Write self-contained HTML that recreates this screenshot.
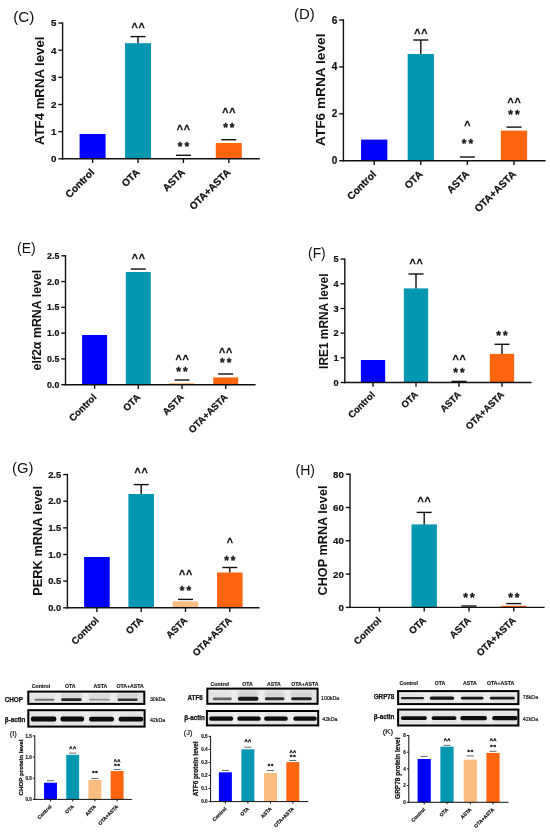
<!DOCTYPE html>
<html><head><meta charset="utf-8"><title>Figure</title>
<style>
html,body{margin:0;padding:0;background:#fff;}
body{width:550px;height:832px;overflow:hidden;}
svg{display:block;font-family:"Liberation Sans", Arial, sans-serif;}
</style></head>
<body>
<svg width="550" height="832" viewBox="0 0 550 832">
<defs><filter id="blur" x="-20%" y="-100%" width="140%" height="300%"><feGaussianBlur stdDeviation="0.45"/></filter><filter id="blur2" x="-50%" y="-50%" width="200%" height="200%"><feGaussianBlur stdDeviation="0.9"/></filter></defs>
<rect width="550" height="832" fill="#fff"/>
<rect x="79.6" y="134" width="26" height="24.8" fill="#0000ff"/>
<rect x="125" y="43.2" width="26" height="115.6" fill="#0497b2"/>
<line x1="138" y1="36.6" x2="138" y2="43.2" stroke="#111" stroke-width="1.4"/>
<line x1="130.5" y1="36.6" x2="145.5" y2="36.6" stroke="#111" stroke-width="1.4"/>
<text x="138.4" y="31.21" font-size="10.6" font-weight="bold" text-anchor="middle" fill="#111" letter-spacing="0.8" stroke="#111" stroke-width="0.3">^^</text>
<line x1="175.9" y1="155.3" x2="190.9" y2="155.3" stroke="#111" stroke-width="1.4"/>
<text x="184.4" y="151.18" font-size="12" font-weight="bold" text-anchor="middle" fill="#111" letter-spacing="2" stroke="#111" stroke-width="0.3">**</text>
<text x="183.8" y="133.31" font-size="10.6" font-weight="bold" text-anchor="middle" fill="#111" letter-spacing="0.8" stroke="#111" stroke-width="0.3">^^</text>
<rect x="215.8" y="143" width="26" height="15.8" fill="#ff640f"/>
<line x1="221.3" y1="139.7" x2="236.3" y2="139.7" stroke="#111" stroke-width="1.4"/>
<text x="229.8" y="131.78" font-size="12" font-weight="bold" text-anchor="middle" fill="#111" letter-spacing="2" stroke="#111" stroke-width="0.3">**</text>
<text x="229.2" y="115.81" font-size="10.6" font-weight="bold" text-anchor="middle" fill="#111" letter-spacing="0.8" stroke="#111" stroke-width="0.3">^^</text>
<line x1="62.6" y1="22.35" x2="62.6" y2="159.5" stroke="#111" stroke-width="1.4"/>
<line x1="61.9" y1="158.8" x2="259.8" y2="158.8" stroke="#111" stroke-width="1.4"/>
<line x1="58.4" y1="158.8" x2="62.6" y2="158.8" stroke="#111" stroke-width="1.4"/>
<text x="56.4" y="162.23" font-size="9.8" font-weight="bold" text-anchor="end" fill="#111" stroke="#111" stroke-width="0.2">0</text>
<line x1="58.4" y1="131.65" x2="62.6" y2="131.65" stroke="#111" stroke-width="1.4"/>
<text x="56.4" y="135.08" font-size="9.8" font-weight="bold" text-anchor="end" fill="#111" stroke="#111" stroke-width="0.2">1</text>
<line x1="58.4" y1="104.5" x2="62.6" y2="104.5" stroke="#111" stroke-width="1.4"/>
<text x="56.4" y="107.93" font-size="9.8" font-weight="bold" text-anchor="end" fill="#111" stroke="#111" stroke-width="0.2">2</text>
<line x1="58.4" y1="77.35" x2="62.6" y2="77.35" stroke="#111" stroke-width="1.4"/>
<text x="56.4" y="80.78" font-size="9.8" font-weight="bold" text-anchor="end" fill="#111" stroke="#111" stroke-width="0.2">3</text>
<line x1="58.4" y1="50.2" x2="62.6" y2="50.2" stroke="#111" stroke-width="1.4"/>
<text x="56.4" y="53.63" font-size="9.8" font-weight="bold" text-anchor="end" fill="#111" stroke="#111" stroke-width="0.2">4</text>
<line x1="58.4" y1="23.05" x2="62.6" y2="23.05" stroke="#111" stroke-width="1.4"/>
<text x="56.4" y="26.48" font-size="9.8" font-weight="bold" text-anchor="end" fill="#111" stroke="#111" stroke-width="0.2">5</text>
<line x1="92.6" y1="158.8" x2="92.6" y2="163" stroke="#111" stroke-width="1.4"/>
<text x="94.9" y="173" font-size="10.1" font-weight="bold" text-anchor="end" fill="#111" transform="rotate(-45 94.9 173)" stroke="#111" stroke-width="0.25">Control</text>
<line x1="138" y1="158.8" x2="138" y2="163" stroke="#111" stroke-width="1.4"/>
<text x="140.3" y="173" font-size="10.1" font-weight="bold" text-anchor="end" fill="#111" transform="rotate(-45 140.3 173)" stroke="#111" stroke-width="0.25">OTA</text>
<line x1="183.4" y1="158.8" x2="183.4" y2="163" stroke="#111" stroke-width="1.4"/>
<text x="185.7" y="173" font-size="10.1" font-weight="bold" text-anchor="end" fill="#111" transform="rotate(-45 185.7 173)" stroke="#111" stroke-width="0.25">ASTA</text>
<line x1="228.8" y1="158.8" x2="228.8" y2="163" stroke="#111" stroke-width="1.4"/>
<text x="231.1" y="173" font-size="10.1" font-weight="bold" text-anchor="end" fill="#111" transform="rotate(-45 231.1 173)" stroke="#111" stroke-width="0.25">OTA+ASTA</text>
<text x="44.1" y="145" font-size="13.2" font-weight="bold" text-anchor="start" fill="#111" transform="rotate(-90 44.1 145)">ATF4 mRNA level</text>
<text x="13.2" y="21.8" font-size="15.3" font-weight="normal" text-anchor="start" fill="#111">(C)</text>
<rect x="361.05" y="139.6" width="26.3" height="21.1" fill="#0000ff"/>
<rect x="407.65" y="54" width="26.3" height="106.7" fill="#0497b2"/>
<line x1="420.8" y1="40" x2="420.8" y2="54" stroke="#111" stroke-width="1.4"/>
<line x1="413.3" y1="40" x2="428.3" y2="40" stroke="#111" stroke-width="1.4"/>
<text x="421.2" y="36.81" font-size="10.6" font-weight="bold" text-anchor="middle" fill="#111" letter-spacing="0.8" stroke="#111" stroke-width="0.3">^^</text>
<line x1="459.9" y1="157" x2="474.9" y2="157" stroke="#111" stroke-width="1.4"/>
<text x="468.4" y="148.08" font-size="12" font-weight="bold" text-anchor="middle" fill="#111" letter-spacing="2" stroke="#111" stroke-width="0.3">**</text>
<text x="467.8" y="128.61" font-size="10.6" font-weight="bold" text-anchor="middle" fill="#111" letter-spacing="0.8" stroke="#111" stroke-width="0.3">^</text>
<rect x="500.85" y="130.6" width="26.3" height="30.1" fill="#ff640f"/>
<line x1="506.5" y1="127.1" x2="521.5" y2="127.1" stroke="#111" stroke-width="1.4"/>
<text x="515" y="119.28" font-size="12" font-weight="bold" text-anchor="middle" fill="#111" letter-spacing="2" stroke="#111" stroke-width="0.3">**</text>
<text x="514.4" y="105.81" font-size="10.6" font-weight="bold" text-anchor="middle" fill="#111" letter-spacing="0.8" stroke="#111" stroke-width="0.3">^^</text>
<line x1="343.4" y1="19.3" x2="343.4" y2="161.4" stroke="#111" stroke-width="1.4"/>
<line x1="342.7" y1="160.7" x2="545.6" y2="160.7" stroke="#111" stroke-width="1.4"/>
<line x1="339.2" y1="160.7" x2="343.4" y2="160.7" stroke="#111" stroke-width="1.4"/>
<text x="337.2" y="164.2" font-size="10" font-weight="bold" text-anchor="end" fill="#111" stroke="#111" stroke-width="0.2">0</text>
<line x1="339.2" y1="113.8" x2="343.4" y2="113.8" stroke="#111" stroke-width="1.4"/>
<text x="337.2" y="117.3" font-size="10" font-weight="bold" text-anchor="end" fill="#111" stroke="#111" stroke-width="0.2">2</text>
<line x1="339.2" y1="66.9" x2="343.4" y2="66.9" stroke="#111" stroke-width="1.4"/>
<text x="337.2" y="70.4" font-size="10" font-weight="bold" text-anchor="end" fill="#111" stroke="#111" stroke-width="0.2">4</text>
<line x1="339.2" y1="20" x2="343.4" y2="20" stroke="#111" stroke-width="1.4"/>
<text x="337.2" y="23.5" font-size="10" font-weight="bold" text-anchor="end" fill="#111" stroke="#111" stroke-width="0.2">6</text>
<line x1="374.2" y1="160.7" x2="374.2" y2="164.9" stroke="#111" stroke-width="1.4"/>
<text x="376.8" y="174.9" font-size="10.2" font-weight="bold" text-anchor="end" fill="#111" transform="rotate(-45 376.8 174.9)" stroke="#111" stroke-width="0.25">Control</text>
<line x1="420.8" y1="160.7" x2="420.8" y2="164.9" stroke="#111" stroke-width="1.4"/>
<text x="423.4" y="174.9" font-size="10.2" font-weight="bold" text-anchor="end" fill="#111" transform="rotate(-45 423.4 174.9)" stroke="#111" stroke-width="0.25">OTA</text>
<line x1="467.4" y1="160.7" x2="467.4" y2="164.9" stroke="#111" stroke-width="1.4"/>
<text x="470" y="174.9" font-size="10.2" font-weight="bold" text-anchor="end" fill="#111" transform="rotate(-45 470 174.9)" stroke="#111" stroke-width="0.25">ASTA</text>
<line x1="514" y1="160.7" x2="514" y2="164.9" stroke="#111" stroke-width="1.4"/>
<text x="516.6" y="174.9" font-size="10.2" font-weight="bold" text-anchor="end" fill="#111" transform="rotate(-45 516.6 174.9)" stroke="#111" stroke-width="0.25">OTA+ASTA</text>
<text x="325.5" y="146.1" font-size="13.7" font-weight="bold" text-anchor="start" fill="#111" transform="rotate(-90 325.5 146.1)">ATF6 mRNA level</text>
<text x="294" y="19.2" font-size="15" font-weight="normal" text-anchor="start" fill="#111">(D)</text>
<rect x="82.1" y="335" width="25" height="49.7" fill="#0000ff"/>
<rect x="125.8" y="272" width="25" height="112.7" fill="#0497b2"/>
<line x1="130.8" y1="269" x2="145.8" y2="269" stroke="#111" stroke-width="1.4"/>
<text x="138.7" y="261.81" font-size="10.6" font-weight="bold" text-anchor="middle" fill="#111" letter-spacing="0.8" stroke="#111" stroke-width="0.3">^^</text>
<rect x="169.5" y="383" width="25" height="1.7" fill="#fcbd80"/>
<line x1="174.5" y1="380" x2="189.5" y2="380" stroke="#111" stroke-width="1.4"/>
<text x="183" y="375.78" font-size="12" font-weight="bold" text-anchor="middle" fill="#111" letter-spacing="2" stroke="#111" stroke-width="0.3">**</text>
<text x="182.4" y="363.41" font-size="10.6" font-weight="bold" text-anchor="middle" fill="#111" letter-spacing="0.8" stroke="#111" stroke-width="0.3">^^</text>
<rect x="213.2" y="377.4" width="25" height="7.3" fill="#ff640f"/>
<line x1="218.2" y1="374" x2="233.2" y2="374" stroke="#111" stroke-width="1.4"/>
<text x="226.7" y="367.18" font-size="12" font-weight="bold" text-anchor="middle" fill="#111" letter-spacing="2" stroke="#111" stroke-width="0.3">**</text>
<text x="226.1" y="356.21" font-size="10.6" font-weight="bold" text-anchor="middle" fill="#111" letter-spacing="0.8" stroke="#111" stroke-width="0.3">^^</text>
<line x1="65.5" y1="255.1" x2="65.5" y2="385.4" stroke="#111" stroke-width="1.4"/>
<line x1="64.8" y1="384.7" x2="255.6" y2="384.7" stroke="#111" stroke-width="1.4"/>
<line x1="61.3" y1="384.7" x2="65.5" y2="384.7" stroke="#111" stroke-width="1.4"/>
<text x="59.3" y="387.78" font-size="8.8" font-weight="bold" text-anchor="end" fill="#111" stroke="#111" stroke-width="0.2">0.0</text>
<line x1="61.3" y1="358.92" x2="65.5" y2="358.92" stroke="#111" stroke-width="1.4"/>
<text x="59.3" y="362" font-size="8.8" font-weight="bold" text-anchor="end" fill="#111" stroke="#111" stroke-width="0.2">0.5</text>
<line x1="61.3" y1="333.14" x2="65.5" y2="333.14" stroke="#111" stroke-width="1.4"/>
<text x="59.3" y="336.22" font-size="8.8" font-weight="bold" text-anchor="end" fill="#111" stroke="#111" stroke-width="0.2">1.0</text>
<line x1="61.3" y1="307.36" x2="65.5" y2="307.36" stroke="#111" stroke-width="1.4"/>
<text x="59.3" y="310.44" font-size="8.8" font-weight="bold" text-anchor="end" fill="#111" stroke="#111" stroke-width="0.2">1.5</text>
<line x1="61.3" y1="281.58" x2="65.5" y2="281.58" stroke="#111" stroke-width="1.4"/>
<text x="59.3" y="284.66" font-size="8.8" font-weight="bold" text-anchor="end" fill="#111" stroke="#111" stroke-width="0.2">2.0</text>
<line x1="61.3" y1="255.8" x2="65.5" y2="255.8" stroke="#111" stroke-width="1.4"/>
<text x="59.3" y="258.88" font-size="8.8" font-weight="bold" text-anchor="end" fill="#111" stroke="#111" stroke-width="0.2">2.5</text>
<line x1="94.6" y1="384.7" x2="94.6" y2="388.9" stroke="#111" stroke-width="1.4"/>
<text x="97.1" y="397.9" font-size="9.6" font-weight="bold" text-anchor="end" fill="#111" transform="rotate(-45 97.1 397.9)" stroke="#111" stroke-width="0.25">Control</text>
<line x1="138.3" y1="384.7" x2="138.3" y2="388.9" stroke="#111" stroke-width="1.4"/>
<text x="140.8" y="397.9" font-size="9.6" font-weight="bold" text-anchor="end" fill="#111" transform="rotate(-45 140.8 397.9)" stroke="#111" stroke-width="0.25">OTA</text>
<line x1="182" y1="384.7" x2="182" y2="388.9" stroke="#111" stroke-width="1.4"/>
<text x="184.5" y="397.9" font-size="9.6" font-weight="bold" text-anchor="end" fill="#111" transform="rotate(-45 184.5 397.9)" stroke="#111" stroke-width="0.25">ASTA</text>
<line x1="225.7" y1="384.7" x2="225.7" y2="388.9" stroke="#111" stroke-width="1.4"/>
<text x="228.2" y="397.9" font-size="9.6" font-weight="bold" text-anchor="end" fill="#111" transform="rotate(-45 228.2 397.9)" stroke="#111" stroke-width="0.25">OTA+ASTA</text>
<text x="40.6" y="370.5" font-size="12.4" font-weight="bold" text-anchor="start" fill="#111" transform="rotate(-90 40.6 370.5)">elf2α mRNA level</text>
<text x="17.1" y="253" font-size="14" font-weight="normal" text-anchor="start" fill="#111">(E)</text>
<rect x="360.85" y="360" width="24.3" height="22.5" fill="#0000ff"/>
<rect x="403.85" y="288.4" width="24.3" height="94.1" fill="#0497b2"/>
<line x1="416" y1="274" x2="416" y2="288.4" stroke="#111" stroke-width="1.4"/>
<line x1="408.5" y1="274" x2="423.5" y2="274" stroke="#111" stroke-width="1.4"/>
<text x="416.4" y="267.21" font-size="10.6" font-weight="bold" text-anchor="middle" fill="#111" letter-spacing="0.8" stroke="#111" stroke-width="0.3">^^</text>
<line x1="451.5" y1="381.4" x2="466.5" y2="381.4" stroke="#111" stroke-width="1.4"/>
<text x="460" y="377.08" font-size="12" font-weight="bold" text-anchor="middle" fill="#111" letter-spacing="2" stroke="#111" stroke-width="0.3">**</text>
<text x="459.4" y="363.41" font-size="10.6" font-weight="bold" text-anchor="middle" fill="#111" letter-spacing="0.8" stroke="#111" stroke-width="0.3">^^</text>
<rect x="489.85" y="353.9" width="24.3" height="28.6" fill="#ff640f"/>
<line x1="502" y1="344.3" x2="502" y2="353.9" stroke="#111" stroke-width="1.4"/>
<line x1="494.5" y1="344.3" x2="509.5" y2="344.3" stroke="#111" stroke-width="1.4"/>
<text x="503" y="339.98" font-size="12" font-weight="bold" text-anchor="middle" fill="#111" letter-spacing="2" stroke="#111" stroke-width="0.3">**</text>
<line x1="344.8" y1="258.4" x2="344.8" y2="383.2" stroke="#111" stroke-width="1.4"/>
<line x1="344.1" y1="382.5" x2="531.5" y2="382.5" stroke="#111" stroke-width="1.4"/>
<line x1="340.6" y1="382.5" x2="344.8" y2="382.5" stroke="#111" stroke-width="1.4"/>
<text x="338.6" y="385.72" font-size="9.2" font-weight="bold" text-anchor="end" fill="#111" stroke="#111" stroke-width="0.2">0</text>
<line x1="340.6" y1="357.82" x2="344.8" y2="357.82" stroke="#111" stroke-width="1.4"/>
<text x="338.6" y="361.04" font-size="9.2" font-weight="bold" text-anchor="end" fill="#111" stroke="#111" stroke-width="0.2">1</text>
<line x1="340.6" y1="333.14" x2="344.8" y2="333.14" stroke="#111" stroke-width="1.4"/>
<text x="338.6" y="336.36" font-size="9.2" font-weight="bold" text-anchor="end" fill="#111" stroke="#111" stroke-width="0.2">2</text>
<line x1="340.6" y1="308.46" x2="344.8" y2="308.46" stroke="#111" stroke-width="1.4"/>
<text x="338.6" y="311.68" font-size="9.2" font-weight="bold" text-anchor="end" fill="#111" stroke="#111" stroke-width="0.2">3</text>
<line x1="340.6" y1="283.78" x2="344.8" y2="283.78" stroke="#111" stroke-width="1.4"/>
<text x="338.6" y="287" font-size="9.2" font-weight="bold" text-anchor="end" fill="#111" stroke="#111" stroke-width="0.2">4</text>
<line x1="340.6" y1="259.1" x2="344.8" y2="259.1" stroke="#111" stroke-width="1.4"/>
<text x="338.6" y="262.32" font-size="9.2" font-weight="bold" text-anchor="end" fill="#111" stroke="#111" stroke-width="0.2">5</text>
<line x1="373" y1="382.5" x2="373" y2="386.7" stroke="#111" stroke-width="1.4"/>
<text x="375.5" y="395.3" font-size="9.4" font-weight="bold" text-anchor="end" fill="#111" transform="rotate(-45 375.5 395.3)" stroke="#111" stroke-width="0.25">Control</text>
<line x1="416" y1="382.5" x2="416" y2="386.7" stroke="#111" stroke-width="1.4"/>
<text x="418.5" y="395.3" font-size="9.4" font-weight="bold" text-anchor="end" fill="#111" transform="rotate(-45 418.5 395.3)" stroke="#111" stroke-width="0.25">OTA</text>
<line x1="459" y1="382.5" x2="459" y2="386.7" stroke="#111" stroke-width="1.4"/>
<text x="461.5" y="395.3" font-size="9.4" font-weight="bold" text-anchor="end" fill="#111" transform="rotate(-45 461.5 395.3)" stroke="#111" stroke-width="0.25">ASTA</text>
<line x1="502" y1="382.5" x2="502" y2="386.7" stroke="#111" stroke-width="1.4"/>
<text x="504.5" y="395.3" font-size="9.4" font-weight="bold" text-anchor="end" fill="#111" transform="rotate(-45 504.5 395.3)" stroke="#111" stroke-width="0.25">OTA+ASTA</text>
<text x="327.6" y="368.9" font-size="11.9" font-weight="bold" text-anchor="start" fill="#111" transform="rotate(-90 327.6 368.9)">IRE1 mRNA level</text>
<text x="308.1" y="257.6" font-size="13.8" font-weight="normal" text-anchor="start" fill="#111">(F)</text>
<rect x="84.1" y="557" width="25.6" height="50.8" fill="#0000ff"/>
<rect x="128.4" y="494" width="25.6" height="113.8" fill="#0497b2"/>
<line x1="141.2" y1="484.6" x2="141.2" y2="494" stroke="#111" stroke-width="1.4"/>
<line x1="133.7" y1="484.6" x2="148.7" y2="484.6" stroke="#111" stroke-width="1.4"/>
<text x="141.6" y="476.41" font-size="10.6" font-weight="bold" text-anchor="middle" fill="#111" letter-spacing="0.8" stroke="#111" stroke-width="0.3">^^</text>
<rect x="172.7" y="601.4" width="25.6" height="6.4" fill="#fcbd80"/>
<line x1="178" y1="599.4" x2="193" y2="599.4" stroke="#111" stroke-width="1.4"/>
<text x="186.5" y="595.48" font-size="12" font-weight="bold" text-anchor="middle" fill="#111" letter-spacing="2" stroke="#111" stroke-width="0.3">**</text>
<text x="185.9" y="577.81" font-size="10.6" font-weight="bold" text-anchor="middle" fill="#111" letter-spacing="0.8" stroke="#111" stroke-width="0.3">^^</text>
<rect x="217" y="572.5" width="25.6" height="35.3" fill="#ff640f"/>
<line x1="229.8" y1="567.5" x2="229.8" y2="572.5" stroke="#111" stroke-width="1.4"/>
<line x1="222.3" y1="567.5" x2="237.3" y2="567.5" stroke="#111" stroke-width="1.4"/>
<text x="230.8" y="564.98" font-size="12" font-weight="bold" text-anchor="middle" fill="#111" letter-spacing="2" stroke="#111" stroke-width="0.3">**</text>
<text x="230.2" y="545.81" font-size="10.6" font-weight="bold" text-anchor="middle" fill="#111" letter-spacing="0.8" stroke="#111" stroke-width="0.3">^</text>
<line x1="67.4" y1="473.85" x2="67.4" y2="608.5" stroke="#111" stroke-width="1.4"/>
<line x1="66.7" y1="607.8" x2="259.5" y2="607.8" stroke="#111" stroke-width="1.4"/>
<line x1="63.2" y1="607.8" x2="67.4" y2="607.8" stroke="#111" stroke-width="1.4"/>
<text x="61.2" y="611.09" font-size="9.4" font-weight="bold" text-anchor="end" fill="#111" stroke="#111" stroke-width="0.2">0.0</text>
<line x1="63.2" y1="581.15" x2="67.4" y2="581.15" stroke="#111" stroke-width="1.4"/>
<text x="61.2" y="584.44" font-size="9.4" font-weight="bold" text-anchor="end" fill="#111" stroke="#111" stroke-width="0.2">0.5</text>
<line x1="63.2" y1="554.5" x2="67.4" y2="554.5" stroke="#111" stroke-width="1.4"/>
<text x="61.2" y="557.79" font-size="9.4" font-weight="bold" text-anchor="end" fill="#111" stroke="#111" stroke-width="0.2">1.0</text>
<line x1="63.2" y1="527.85" x2="67.4" y2="527.85" stroke="#111" stroke-width="1.4"/>
<text x="61.2" y="531.14" font-size="9.4" font-weight="bold" text-anchor="end" fill="#111" stroke="#111" stroke-width="0.2">1.5</text>
<line x1="63.2" y1="501.2" x2="67.4" y2="501.2" stroke="#111" stroke-width="1.4"/>
<text x="61.2" y="504.49" font-size="9.4" font-weight="bold" text-anchor="end" fill="#111" stroke="#111" stroke-width="0.2">2.0</text>
<line x1="63.2" y1="474.55" x2="67.4" y2="474.55" stroke="#111" stroke-width="1.4"/>
<text x="61.2" y="477.84" font-size="9.4" font-weight="bold" text-anchor="end" fill="#111" stroke="#111" stroke-width="0.2">2.5</text>
<line x1="96.9" y1="607.8" x2="96.9" y2="612" stroke="#111" stroke-width="1.4"/>
<text x="99.4" y="621" font-size="9.6" font-weight="bold" text-anchor="end" fill="#111" transform="rotate(-45 99.4 621)" stroke="#111" stroke-width="0.25">Control</text>
<line x1="141.2" y1="607.8" x2="141.2" y2="612" stroke="#111" stroke-width="1.4"/>
<text x="143.7" y="621" font-size="9.6" font-weight="bold" text-anchor="end" fill="#111" transform="rotate(-45 143.7 621)" stroke="#111" stroke-width="0.25">OTA</text>
<line x1="185.5" y1="607.8" x2="185.5" y2="612" stroke="#111" stroke-width="1.4"/>
<text x="188" y="621" font-size="9.6" font-weight="bold" text-anchor="end" fill="#111" transform="rotate(-45 188 621)" stroke="#111" stroke-width="0.25">ASTA</text>
<line x1="229.8" y1="607.8" x2="229.8" y2="612" stroke="#111" stroke-width="1.4"/>
<text x="232.3" y="621" font-size="9.6" font-weight="bold" text-anchor="end" fill="#111" transform="rotate(-45 232.3 621)" stroke="#111" stroke-width="0.25">OTA+ASTA</text>
<text x="41.9" y="595.7" font-size="12.8" font-weight="bold" text-anchor="start" fill="#111" transform="rotate(-90 41.9 595.7)">PERK mRNA level</text>
<text x="12.1" y="473.4" font-size="14.8" font-weight="normal" text-anchor="start" fill="#111">(G)</text>
<rect x="411.5" y="524.4" width="25.4" height="83" fill="#0497b2"/>
<line x1="424.2" y1="512.4" x2="424.2" y2="524.4" stroke="#111" stroke-width="1.4"/>
<line x1="416.7" y1="512.4" x2="431.7" y2="512.4" stroke="#111" stroke-width="1.4"/>
<text x="424.6" y="504.81" font-size="10.6" font-weight="bold" text-anchor="middle" fill="#111" letter-spacing="0.8" stroke="#111" stroke-width="0.3">^^</text>
<line x1="461.5" y1="606" x2="476.5" y2="606" stroke="#111" stroke-width="1.4"/>
<text x="470" y="601.98" font-size="12" font-weight="bold" text-anchor="middle" fill="#111" letter-spacing="2" stroke="#111" stroke-width="0.3">**</text>
<rect x="501.1" y="605.8" width="25.4" height="1.6" fill="#ff640f"/>
<line x1="506.3" y1="603.6" x2="521.3" y2="603.6" stroke="#111" stroke-width="1.4"/>
<text x="514.8" y="601.98" font-size="12" font-weight="bold" text-anchor="middle" fill="#111" letter-spacing="2" stroke="#111" stroke-width="0.3">**</text>
<line x1="350" y1="473.5" x2="350" y2="608.1" stroke="#111" stroke-width="1.4"/>
<line x1="349.3" y1="607.4" x2="544.6" y2="607.4" stroke="#111" stroke-width="1.4"/>
<line x1="345.8" y1="607.4" x2="350" y2="607.4" stroke="#111" stroke-width="1.4"/>
<text x="343.8" y="610.79" font-size="9.7" font-weight="bold" text-anchor="end" fill="#111" stroke="#111" stroke-width="0.2">0</text>
<line x1="345.8" y1="574.1" x2="350" y2="574.1" stroke="#111" stroke-width="1.4"/>
<text x="343.8" y="577.5" font-size="9.7" font-weight="bold" text-anchor="end" fill="#111" stroke="#111" stroke-width="0.2">20</text>
<line x1="345.8" y1="540.8" x2="350" y2="540.8" stroke="#111" stroke-width="1.4"/>
<text x="343.8" y="544.19" font-size="9.7" font-weight="bold" text-anchor="end" fill="#111" stroke="#111" stroke-width="0.2">40</text>
<line x1="345.8" y1="507.5" x2="350" y2="507.5" stroke="#111" stroke-width="1.4"/>
<text x="343.8" y="510.89" font-size="9.7" font-weight="bold" text-anchor="end" fill="#111" stroke="#111" stroke-width="0.2">60</text>
<line x1="345.8" y1="474.2" x2="350" y2="474.2" stroke="#111" stroke-width="1.4"/>
<text x="343.8" y="477.59" font-size="9.7" font-weight="bold" text-anchor="end" fill="#111" stroke="#111" stroke-width="0.2">80</text>
<line x1="379.4" y1="607.4" x2="379.4" y2="611.6" stroke="#111" stroke-width="1.4"/>
<text x="381.9" y="621" font-size="9.6" font-weight="bold" text-anchor="end" fill="#111" transform="rotate(-45 381.9 621)" stroke="#111" stroke-width="0.25">Control</text>
<line x1="424.2" y1="607.4" x2="424.2" y2="611.6" stroke="#111" stroke-width="1.4"/>
<text x="426.7" y="621" font-size="9.6" font-weight="bold" text-anchor="end" fill="#111" transform="rotate(-45 426.7 621)" stroke="#111" stroke-width="0.25">OTA</text>
<line x1="469" y1="607.4" x2="469" y2="611.6" stroke="#111" stroke-width="1.4"/>
<text x="471.5" y="621" font-size="9.6" font-weight="bold" text-anchor="end" fill="#111" transform="rotate(-45 471.5 621)" stroke="#111" stroke-width="0.25">ASTA</text>
<line x1="513.8" y1="607.4" x2="513.8" y2="611.6" stroke="#111" stroke-width="1.4"/>
<text x="516.3" y="621" font-size="9.6" font-weight="bold" text-anchor="end" fill="#111" transform="rotate(-45 516.3 621)" stroke="#111" stroke-width="0.25">OTA+ASTA</text>
<text x="327.2" y="595.5" font-size="12.7" font-weight="bold" text-anchor="start" fill="#111" transform="rotate(-90 327.2 595.5)">CHOP mRNA level</text>
<text x="295.5" y="474.7" font-size="14" font-weight="normal" text-anchor="start" fill="#111">(H)</text>
<rect x="44.05" y="782.7" width="12.9" height="16.7" fill="#0000ff"/>
<line x1="47" y1="780.7" x2="54" y2="780.7" stroke="#444" stroke-width="0.8"/>
<rect x="66.25" y="754.8" width="12.9" height="44.6" fill="#0497b2"/>
<line x1="69.2" y1="753.1" x2="76.2" y2="753.1" stroke="#444" stroke-width="0.8"/>
<text x="72.9" y="749.63" font-size="5.4" font-weight="bold" text-anchor="middle" fill="#111" letter-spacing="0.4" stroke="#111" stroke-width="0.35">^^</text>
<rect x="88.45" y="779.9" width="12.9" height="19.5" fill="#fcbd80"/>
<line x1="91.4" y1="778.5" x2="98.4" y2="778.5" stroke="#444" stroke-width="0.8"/>
<text x="95.3" y="775.14" font-size="6" font-weight="bold" text-anchor="middle" fill="#111" letter-spacing="0.8" stroke="#111" stroke-width="0.35">**</text>
<rect x="110.65" y="771" width="12.9" height="28.4" fill="#ff640f"/>
<line x1="113.6" y1="769.5" x2="120.6" y2="769.5" stroke="#444" stroke-width="0.8"/>
<text x="117.5" y="767.94" font-size="6" font-weight="bold" text-anchor="middle" fill="#111" letter-spacing="0.8" stroke="#111" stroke-width="0.35">**</text>
<text x="117.3" y="763.33" font-size="5.4" font-weight="bold" text-anchor="middle" fill="#111" letter-spacing="0.4" stroke="#111" stroke-width="0.35">^^</text>
<line x1="34.8" y1="735.4" x2="34.8" y2="799.9" stroke="#111" stroke-width="1"/>
<line x1="34.3" y1="799.4" x2="131.9" y2="799.4" stroke="#111" stroke-width="1"/>
<line x1="32.8" y1="799.4" x2="34.8" y2="799.4" stroke="#111" stroke-width="1"/>
<text x="31.8" y="801.01" font-size="4.6" font-weight="bold" text-anchor="end" fill="#111" stroke="#222" stroke-width="0.15">0.0</text>
<line x1="32.8" y1="778.25" x2="34.8" y2="778.25" stroke="#111" stroke-width="1"/>
<text x="31.8" y="779.86" font-size="4.6" font-weight="bold" text-anchor="end" fill="#111" stroke="#222" stroke-width="0.15">0.5</text>
<line x1="32.8" y1="757.1" x2="34.8" y2="757.1" stroke="#111" stroke-width="1"/>
<text x="31.8" y="758.71" font-size="4.6" font-weight="bold" text-anchor="end" fill="#111" stroke="#222" stroke-width="0.15">1.0</text>
<line x1="32.8" y1="735.95" x2="34.8" y2="735.95" stroke="#111" stroke-width="1"/>
<text x="31.8" y="737.56" font-size="4.6" font-weight="bold" text-anchor="end" fill="#111" stroke="#222" stroke-width="0.15">1.5</text>
<line x1="50.5" y1="799.4" x2="50.5" y2="801.4" stroke="#111" stroke-width="1"/>
<text x="52" y="807" font-size="4.95" font-weight="bold" text-anchor="end" fill="#111" transform="rotate(-45 52 807)" stroke="#222" stroke-width="0.2">Control</text>
<line x1="72.7" y1="799.4" x2="72.7" y2="801.4" stroke="#111" stroke-width="1"/>
<text x="74.2" y="807" font-size="4.95" font-weight="bold" text-anchor="end" fill="#111" transform="rotate(-45 74.2 807)" stroke="#222" stroke-width="0.2">OTA</text>
<line x1="94.9" y1="799.4" x2="94.9" y2="801.4" stroke="#111" stroke-width="1"/>
<text x="96.4" y="807" font-size="4.95" font-weight="bold" text-anchor="end" fill="#111" transform="rotate(-45 96.4 807)" stroke="#222" stroke-width="0.2">ASTA</text>
<line x1="117.1" y1="799.4" x2="117.1" y2="801.4" stroke="#111" stroke-width="1"/>
<text x="118.6" y="807" font-size="4.95" font-weight="bold" text-anchor="end" fill="#111" transform="rotate(-45 118.6 807)" stroke="#222" stroke-width="0.2">OTA+ASTA</text>
<text x="22.9" y="795.5" font-size="6.2" font-weight="bold" text-anchor="start" fill="#111" transform="rotate(-90 22.9 795.5)" stroke="#111" stroke-width="0.25">CHOP protein level</text>
<text x="9.75" y="735.9" font-size="7.5" font-weight="normal" text-anchor="start" fill="#111" stroke="#222" stroke-width="0.2">(I)</text>
<rect x="218.9" y="772.3" width="13" height="29.3" fill="#0000ff"/>
<line x1="221.9" y1="770.5" x2="228.9" y2="770.5" stroke="#444" stroke-width="0.8"/>
<rect x="241.4" y="749.3" width="13" height="52.3" fill="#0497b2"/>
<line x1="244.4" y1="747.2" x2="251.4" y2="747.2" stroke="#444" stroke-width="0.8"/>
<text x="248.1" y="742.93" font-size="5.4" font-weight="bold" text-anchor="middle" fill="#111" letter-spacing="0.4" stroke="#111" stroke-width="0.35">^^</text>
<rect x="264" y="773" width="13" height="28.6" fill="#fcbd80"/>
<line x1="267" y1="770.5" x2="274" y2="770.5" stroke="#444" stroke-width="0.8"/>
<text x="270.9" y="768.44" font-size="6" font-weight="bold" text-anchor="middle" fill="#111" letter-spacing="0.8" stroke="#111" stroke-width="0.35">**</text>
<rect x="286.3" y="762.1" width="13" height="39.5" fill="#ff640f"/>
<line x1="289.3" y1="760.5" x2="296.3" y2="760.5" stroke="#444" stroke-width="0.8"/>
<text x="293.2" y="759.24" font-size="6" font-weight="bold" text-anchor="middle" fill="#111" letter-spacing="0.8" stroke="#111" stroke-width="0.35">**</text>
<text x="293" y="753.83" font-size="5.4" font-weight="bold" text-anchor="middle" fill="#111" letter-spacing="0.4" stroke="#111" stroke-width="0.35">^^</text>
<line x1="210.6" y1="735.9" x2="210.6" y2="802.1" stroke="#111" stroke-width="1"/>
<line x1="210.1" y1="801.6" x2="308.2" y2="801.6" stroke="#111" stroke-width="1"/>
<line x1="208.6" y1="801.6" x2="210.6" y2="801.6" stroke="#111" stroke-width="1"/>
<text x="207.6" y="803.21" font-size="4.6" font-weight="bold" text-anchor="end" fill="#111" stroke="#222" stroke-width="0.15">0.0</text>
<line x1="208.6" y1="788.56" x2="210.6" y2="788.56" stroke="#111" stroke-width="1"/>
<text x="207.6" y="790.17" font-size="4.6" font-weight="bold" text-anchor="end" fill="#111" stroke="#222" stroke-width="0.15">0.1</text>
<line x1="208.6" y1="775.52" x2="210.6" y2="775.52" stroke="#111" stroke-width="1"/>
<text x="207.6" y="777.13" font-size="4.6" font-weight="bold" text-anchor="end" fill="#111" stroke="#222" stroke-width="0.15">0.2</text>
<line x1="208.6" y1="762.48" x2="210.6" y2="762.48" stroke="#111" stroke-width="1"/>
<text x="207.6" y="764.09" font-size="4.6" font-weight="bold" text-anchor="end" fill="#111" stroke="#222" stroke-width="0.15">0.3</text>
<line x1="208.6" y1="749.44" x2="210.6" y2="749.44" stroke="#111" stroke-width="1"/>
<text x="207.6" y="751.05" font-size="4.6" font-weight="bold" text-anchor="end" fill="#111" stroke="#222" stroke-width="0.15">0.4</text>
<line x1="208.6" y1="736.4" x2="210.6" y2="736.4" stroke="#111" stroke-width="1"/>
<text x="207.6" y="738.01" font-size="4.6" font-weight="bold" text-anchor="end" fill="#111" stroke="#222" stroke-width="0.15">0.5</text>
<line x1="225.4" y1="801.6" x2="225.4" y2="803.6" stroke="#111" stroke-width="1"/>
<text x="226.9" y="809.2" font-size="4.95" font-weight="bold" text-anchor="end" fill="#111" transform="rotate(-45 226.9 809.2)" stroke="#222" stroke-width="0.2">Control</text>
<line x1="247.9" y1="801.6" x2="247.9" y2="803.6" stroke="#111" stroke-width="1"/>
<text x="249.4" y="809.2" font-size="4.95" font-weight="bold" text-anchor="end" fill="#111" transform="rotate(-45 249.4 809.2)" stroke="#222" stroke-width="0.2">OTA</text>
<line x1="270.5" y1="801.6" x2="270.5" y2="803.6" stroke="#111" stroke-width="1"/>
<text x="272" y="809.2" font-size="4.95" font-weight="bold" text-anchor="end" fill="#111" transform="rotate(-45 272 809.2)" stroke="#222" stroke-width="0.2">ASTA</text>
<line x1="292.8" y1="801.6" x2="292.8" y2="803.6" stroke="#111" stroke-width="1"/>
<text x="294.3" y="809.2" font-size="4.95" font-weight="bold" text-anchor="end" fill="#111" transform="rotate(-45 294.3 809.2)" stroke="#222" stroke-width="0.2">OTA+ASTA</text>
<text x="197.6" y="796.3" font-size="6.4" font-weight="bold" text-anchor="start" fill="#111" transform="rotate(-90 197.6 796.3)" stroke="#111" stroke-width="0.25">ATF6 protein level</text>
<text x="183.85" y="735.1" font-size="7.5" font-weight="normal" text-anchor="start" fill="#111" stroke="#222" stroke-width="0.2">(J)</text>
<rect x="417.6" y="759" width="13.2" height="43.3" fill="#0000ff"/>
<line x1="420.7" y1="756.4" x2="427.7" y2="756.4" stroke="#444" stroke-width="0.8"/>
<rect x="440.4" y="746.7" width="13.2" height="55.6" fill="#0497b2"/>
<line x1="443.5" y1="745.4" x2="450.5" y2="745.4" stroke="#444" stroke-width="0.8"/>
<text x="447.2" y="742.13" font-size="5.4" font-weight="bold" text-anchor="middle" fill="#111" letter-spacing="0.4" stroke="#111" stroke-width="0.35">^^</text>
<rect x="463.7" y="759.6" width="13.2" height="42.7" fill="#fcbd80"/>
<line x1="466.8" y1="755.9" x2="473.8" y2="755.9" stroke="#444" stroke-width="0.8"/>
<text x="470.7" y="754.24" font-size="6" font-weight="bold" text-anchor="middle" fill="#111" letter-spacing="0.8" stroke="#111" stroke-width="0.35">**</text>
<rect x="486.4" y="752.9" width="13.2" height="49.4" fill="#ff640f"/>
<line x1="489.5" y1="751.3" x2="496.5" y2="751.3" stroke="#444" stroke-width="0.8"/>
<text x="493.4" y="748.84" font-size="6" font-weight="bold" text-anchor="middle" fill="#111" letter-spacing="0.8" stroke="#111" stroke-width="0.35">**</text>
<text x="493.2" y="742.13" font-size="5.4" font-weight="bold" text-anchor="middle" fill="#111" letter-spacing="0.4" stroke="#111" stroke-width="0.35">^^</text>
<line x1="408.8" y1="735" x2="408.8" y2="802.8" stroke="#111" stroke-width="1"/>
<line x1="408.3" y1="802.3" x2="508.5" y2="802.3" stroke="#111" stroke-width="1"/>
<line x1="406.8" y1="802.3" x2="408.8" y2="802.3" stroke="#111" stroke-width="1"/>
<text x="405.8" y="803.91" font-size="4.6" font-weight="bold" text-anchor="end" fill="#111" stroke="#222" stroke-width="0.15">0</text>
<line x1="406.8" y1="785.6" x2="408.8" y2="785.6" stroke="#111" stroke-width="1"/>
<text x="405.8" y="787.21" font-size="4.6" font-weight="bold" text-anchor="end" fill="#111" stroke="#222" stroke-width="0.15">2</text>
<line x1="406.8" y1="768.9" x2="408.8" y2="768.9" stroke="#111" stroke-width="1"/>
<text x="405.8" y="770.51" font-size="4.6" font-weight="bold" text-anchor="end" fill="#111" stroke="#222" stroke-width="0.15">4</text>
<line x1="406.8" y1="752.2" x2="408.8" y2="752.2" stroke="#111" stroke-width="1"/>
<text x="405.8" y="753.81" font-size="4.6" font-weight="bold" text-anchor="end" fill="#111" stroke="#222" stroke-width="0.15">6</text>
<line x1="406.8" y1="735.5" x2="408.8" y2="735.5" stroke="#111" stroke-width="1"/>
<text x="405.8" y="737.11" font-size="4.6" font-weight="bold" text-anchor="end" fill="#111" stroke="#222" stroke-width="0.15">8</text>
<line x1="424.2" y1="802.3" x2="424.2" y2="804.3" stroke="#111" stroke-width="1"/>
<text x="425.7" y="809.9" font-size="4.95" font-weight="bold" text-anchor="end" fill="#111" transform="rotate(-45 425.7 809.9)" stroke="#222" stroke-width="0.2">Control</text>
<line x1="447" y1="802.3" x2="447" y2="804.3" stroke="#111" stroke-width="1"/>
<text x="448.5" y="809.9" font-size="4.95" font-weight="bold" text-anchor="end" fill="#111" transform="rotate(-45 448.5 809.9)" stroke="#222" stroke-width="0.2">OTA</text>
<line x1="470.3" y1="802.3" x2="470.3" y2="804.3" stroke="#111" stroke-width="1"/>
<text x="471.8" y="809.9" font-size="4.95" font-weight="bold" text-anchor="end" fill="#111" transform="rotate(-45 471.8 809.9)" stroke="#222" stroke-width="0.2">ASTA</text>
<line x1="493" y1="802.3" x2="493" y2="804.3" stroke="#111" stroke-width="1"/>
<text x="494.5" y="809.9" font-size="4.95" font-weight="bold" text-anchor="end" fill="#111" transform="rotate(-45 494.5 809.9)" stroke="#222" stroke-width="0.2">OTA+ASTA</text>
<text x="399.6" y="798.9" font-size="6.5" font-weight="bold" text-anchor="start" fill="#111" transform="rotate(-90 399.6 798.9)" stroke="#111" stroke-width="0.25">GRP78 protein level</text>
<text x="382.7" y="734.1" font-size="7.8" font-weight="normal" text-anchor="start" fill="#111" stroke="#222" stroke-width="0.2">(K)</text>
<text x="41" y="688.4" font-size="5.2" font-weight="bold" text-anchor="middle" fill="#111" stroke="#222" stroke-width="0.15">Control</text>
<text x="70.25" y="688.4" font-size="5.2" font-weight="bold" text-anchor="middle" fill="#111" stroke="#222" stroke-width="0.15">OTA</text>
<text x="100.4" y="688.4" font-size="5.2" font-weight="bold" text-anchor="middle" fill="#111" stroke="#222" stroke-width="0.15">ASTA</text>
<text x="130.2" y="688.4" font-size="5.2" font-weight="bold" text-anchor="middle" fill="#111" stroke="#222" stroke-width="0.15">OTA+ASTA</text>
<rect x="28.3" y="691.6" width="116" height="12.3" fill="#e3e3e3"/>
<rect x="54.1" y="692.6" width="7.4" height="10.3" fill="#ededed" filter="url(#blur2)"/>
<rect x="81.2" y="692.6" width="8.4" height="10.3" fill="#ededed" filter="url(#blur2)"/>
<rect x="109.3" y="692.6" width="8.7" height="10.3" fill="#ededed" filter="url(#blur2)"/>
<rect x="29.3" y="692.6" width="114" height="1.6" fill="#f0f0f0" filter="url(#blur2)"/>
<rect x="61" y="693" width="21" height="5" fill="#d6d6d6" filter="url(#blur2)"/>
<rect x="89" y="693.5" width="21" height="4" fill="#d9d9d9" filter="url(#blur2)"/>
<rect x="117" y="693" width="21" height="5" fill="#d4d4d4" filter="url(#blur2)"/>
<rect x="34.5" y="698.7" width="20.1" height="2" rx="1" fill="rgb(115,115,115)" filter="url(#blur)"/>
<rect x="61" y="698.3" width="20.7" height="2.8" rx="1.4" fill="rgb(35,35,35)" filter="url(#blur)"/>
<rect x="89.1" y="698.8" width="20.7" height="1.8" rx="0.9" fill="rgb(145,145,145)" filter="url(#blur)"/>
<rect x="117.5" y="698.45" width="20.1" height="2.5" rx="1.25" fill="rgb(50,50,50)" filter="url(#blur)"/>
<rect x="28.3" y="691.6" width="116" height="12.3" fill="none" stroke="#000" stroke-width="2"/>
<text x="4.7" y="701.8" font-size="6.3" font-weight="bold" text-anchor="start" fill="#111" stroke="#111" stroke-width="0.25">CHOP</text>
<text x="149.9" y="701.4" font-size="5.3" font-weight="normal" text-anchor="start" fill="#111" stroke="#222" stroke-width="0.2">30kDa</text>
<rect x="28.3" y="710.2" width="116.3" height="16.4" fill="#e3e3e3"/>
<rect x="55.8" y="711.2" width="5.2" height="14.4" fill="#ededed" filter="url(#blur2)"/>
<rect x="83.6" y="711.2" width="6" height="14.4" fill="#ededed" filter="url(#blur2)"/>
<rect x="113.5" y="711.2" width="5.7" height="14.4" fill="#ededed" filter="url(#blur2)"/>
<rect x="29.3" y="711.2" width="114.3" height="1.6" fill="#f0f0f0" filter="url(#blur2)"/>
<rect x="30.9" y="716.6" width="25.4" height="5" rx="2" fill="rgb(12,12,12)" filter="url(#blur)"/>
<rect x="60.5" y="716.6" width="23.6" height="5" rx="2" fill="rgb(12,12,12)" filter="url(#blur)"/>
<rect x="89.1" y="716.7" width="24.9" height="4.8" rx="2" fill="rgb(12,12,12)" filter="url(#blur)"/>
<rect x="118.7" y="716.7" width="24.5" height="4.8" rx="2" fill="rgb(12,12,12)" filter="url(#blur)"/>
<rect x="28.3" y="710.2" width="116.3" height="16.4" fill="none" stroke="#000" stroke-width="2"/>
<text x="4.7" y="722" font-size="6.3" font-weight="bold" text-anchor="start" fill="#111" stroke="#111" stroke-width="0.25">β-actin</text>
<text x="149.9" y="721.9" font-size="5.3" font-weight="normal" text-anchor="start" fill="#111" stroke="#222" stroke-width="0.2">42kDa</text>
<text x="219.85" y="685.9" font-size="5.2" font-weight="bold" text-anchor="middle" fill="#111" stroke="#222" stroke-width="0.15">Control</text>
<text x="247.6" y="685.9" font-size="5.2" font-weight="bold" text-anchor="middle" fill="#111" stroke="#222" stroke-width="0.15">OTA</text>
<text x="273.95" y="685.9" font-size="5.2" font-weight="bold" text-anchor="middle" fill="#111" stroke="#222" stroke-width="0.15">ASTA</text>
<text x="304.95" y="685.9" font-size="5.2" font-weight="bold" text-anchor="middle" fill="#111" stroke="#222" stroke-width="0.15">OTA+ASTA</text>
<rect x="207.3" y="688.6" width="110.3" height="15.2" fill="#e3e3e3"/>
<rect x="231.3" y="689.6" width="7" height="13.2" fill="#ededed" filter="url(#blur2)"/>
<rect x="258" y="689.6" width="7.4" height="13.2" fill="#ededed" filter="url(#blur2)"/>
<rect x="284" y="689.6" width="7.6" height="13.2" fill="#ededed" filter="url(#blur2)"/>
<rect x="208.3" y="689.6" width="108.3" height="1.6" fill="#f0f0f0" filter="url(#blur2)"/>
<rect x="238" y="691" width="20" height="6" fill="#d2d2d2" filter="url(#blur2)"/>
<rect x="265" y="691" width="19" height="6" fill="#d6d6d6" filter="url(#blur2)"/>
<rect x="291" y="691" width="21" height="6" fill="#d4d4d4" filter="url(#blur2)"/>
<rect x="212.7" y="697.45" width="19.1" height="2.7" rx="1.35" fill="rgb(100,100,100)" filter="url(#blur)"/>
<rect x="237.8" y="696.8" width="20.7" height="4" rx="2" fill="rgb(18,18,18)" filter="url(#blur)"/>
<rect x="264.9" y="697.3" width="19.6" height="3" rx="1.5" fill="rgb(45,45,45)" filter="url(#blur)"/>
<rect x="291.1" y="697.3" width="20.7" height="3" rx="1.5" fill="rgb(35,35,35)" filter="url(#blur)"/>
<rect x="207.3" y="688.6" width="110.3" height="15.2" fill="none" stroke="#000" stroke-width="2"/>
<text x="187.5" y="699.6" font-size="6.3" font-weight="bold" text-anchor="start" fill="#111" stroke="#111" stroke-width="0.25">ATF6</text>
<text x="321" y="699.6" font-size="5.3" font-weight="normal" text-anchor="start" fill="#111" stroke="#222" stroke-width="0.2">100kDa</text>
<rect x="206.9" y="711" width="111.3" height="14.4" fill="#e3e3e3"/>
<rect x="232.7" y="712" width="5.1" height="12.4" fill="#ededed" filter="url(#blur2)"/>
<rect x="260.2" y="712" width="4.4" height="12.4" fill="#ededed" filter="url(#blur2)"/>
<rect x="287.3" y="712" width="6.5" height="12.4" fill="#ededed" filter="url(#blur2)"/>
<rect x="207.9" y="712" width="109.3" height="1.6" fill="#f0f0f0" filter="url(#blur2)"/>
<rect x="209.2" y="716.45" width="24" height="4.3" rx="2" fill="rgb(12,12,12)" filter="url(#blur)"/>
<rect x="237.3" y="716.45" width="23.4" height="4.3" rx="2" fill="rgb(12,12,12)" filter="url(#blur)"/>
<rect x="264.1" y="716.4" width="23.7" height="4.4" rx="2" fill="rgb(12,12,12)" filter="url(#blur)"/>
<rect x="293.3" y="716.4" width="23.4" height="4.4" rx="2" fill="rgb(12,12,12)" filter="url(#blur)"/>
<rect x="206.9" y="711" width="111.3" height="14.4" fill="none" stroke="#000" stroke-width="2"/>
<text x="184.2" y="720.2" font-size="6.3" font-weight="bold" text-anchor="start" fill="#111" stroke="#111" stroke-width="0.25">β-actin</text>
<text x="322.2" y="721" font-size="5.3" font-weight="normal" text-anchor="start" fill="#111" stroke="#222" stroke-width="0.2">42kDa</text>
<text x="408.75" y="685.1" font-size="5.2" font-weight="bold" text-anchor="middle" fill="#111" stroke="#222" stroke-width="0.15">Control</text>
<text x="440" y="685.1" font-size="5.2" font-weight="bold" text-anchor="middle" fill="#111" stroke="#222" stroke-width="0.15">OTA</text>
<text x="469.9" y="685.1" font-size="5.2" font-weight="bold" text-anchor="middle" fill="#111" stroke="#222" stroke-width="0.15">ASTA</text>
<text x="500.7" y="685.1" font-size="5.2" font-weight="bold" text-anchor="middle" fill="#111" stroke="#222" stroke-width="0.15">OTA+ASTA</text>
<rect x="398.1" y="691.1" width="120.3" height="13" fill="#e3e3e3"/>
<rect x="423.5" y="692.1" width="6.9" height="11" fill="#ededed" filter="url(#blur2)"/>
<rect x="453.6" y="692.1" width="7.8" height="11" fill="#ededed" filter="url(#blur2)"/>
<rect x="482.9" y="692.1" width="7.5" height="11" fill="#ededed" filter="url(#blur2)"/>
<rect x="399.1" y="692.1" width="118.3" height="1.6" fill="#f0f0f0" filter="url(#blur2)"/>
<rect x="400.9" y="697.1" width="23.1" height="2.2" rx="1.1" fill="rgb(35,35,35)" filter="url(#blur)"/>
<rect x="429.9" y="696.55" width="24.2" height="3.3" rx="1.65" fill="rgb(18,18,18)" filter="url(#blur)"/>
<rect x="460.9" y="696.8" width="22.5" height="2.8" rx="1.4" fill="rgb(25,25,25)" filter="url(#blur)"/>
<rect x="489.9" y="696.85" width="24.8" height="2.7" rx="1.35" fill="rgb(30,30,30)" filter="url(#blur)"/>
<rect x="398.1" y="691.1" width="120.3" height="13" fill="none" stroke="#000" stroke-width="2"/>
<text x="373.7" y="699.3" font-size="6.3" font-weight="bold" text-anchor="start" fill="#111" stroke="#111" stroke-width="0.25">GRP78</text>
<text x="522.8" y="698.5" font-size="5.3" font-weight="normal" text-anchor="start" fill="#111" stroke="#222" stroke-width="0.2">78kDa</text>
<rect x="398.1" y="709.6" width="120.3" height="15.9" fill="#e3e3e3"/>
<rect x="426.4" y="710.6" width="5.7" height="13.9" fill="#ededed" filter="url(#blur2)"/>
<rect x="456" y="710.6" width="4.8" height="13.9" fill="#ededed" filter="url(#blur2)"/>
<rect x="486.4" y="710.6" width="6.3" height="13.9" fill="#ededed" filter="url(#blur2)"/>
<rect x="399.1" y="710.6" width="118.3" height="1.6" fill="#f0f0f0" filter="url(#blur2)"/>
<rect x="400.9" y="716.2" width="26" height="3.8" rx="1.9" fill="rgb(12,12,12)" filter="url(#blur)"/>
<rect x="431.6" y="716.2" width="24.9" height="3.8" rx="1.9" fill="rgb(12,12,12)" filter="url(#blur)"/>
<rect x="460.3" y="715.9" width="26.6" height="4.4" rx="2" fill="rgb(12,12,12)" filter="url(#blur)"/>
<rect x="492.2" y="715.9" width="25.4" height="4.4" rx="2" fill="rgb(12,12,12)" filter="url(#blur)"/>
<rect x="398.1" y="709.6" width="120.3" height="15.9" fill="none" stroke="#000" stroke-width="2"/>
<text x="373.7" y="718.5" font-size="6.3" font-weight="bold" text-anchor="start" fill="#111" stroke="#111" stroke-width="0.25">β-actin</text>
<text x="522.8" y="721" font-size="5.3" font-weight="normal" text-anchor="start" fill="#111" stroke="#222" stroke-width="0.2">42kDa</text>
</svg>
</body></html>
